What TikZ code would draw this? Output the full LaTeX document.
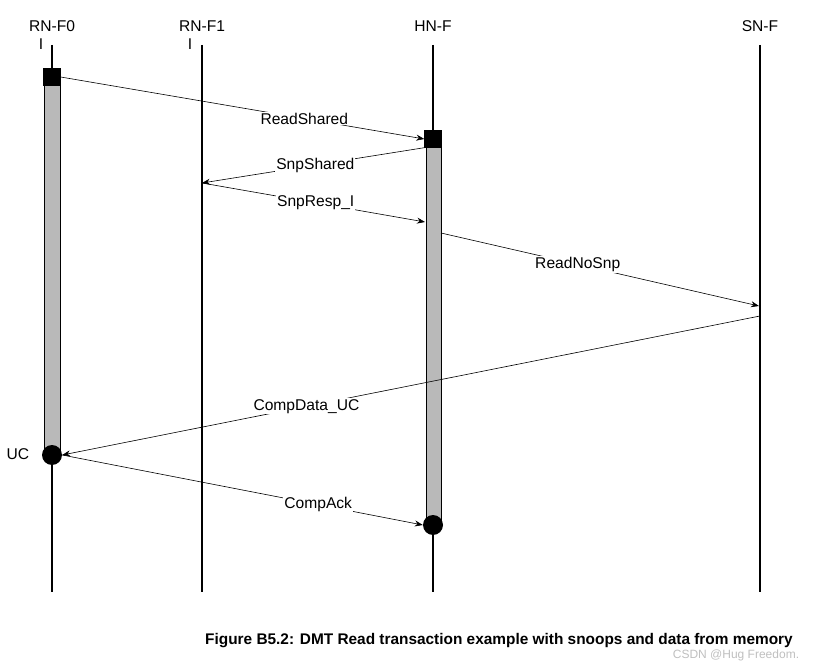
\documentclass[tikz,border=0pt]{standalone}
\usepackage{fontspec}
\setmainfont{Liberation Sans}
\usetikzlibrary{arrows.meta}
\begin{document}
\begin{tikzpicture}[x=1pt,y=-1pt,
  life/.style={line width=1.6pt},
  msg/.style={-{Stealth[length=8pt,width=6pt]},line width=0.6pt},
  lbl/.style={fill=white,inner sep=1pt,font=\fontsize{15.6}{18}\selectfont},
  hdr/.style={font=\fontsize{15.6}{18}\selectfont},
  bar/.style={fill=gray!55,draw=black,line width=0.8pt},
  blk/.style={fill=black,draw=black},
  dot/.style={circle,fill=black,minimum size=20pt,inner sep=0pt}]
\useasboundingbox (0,0) rectangle (815,666);
\foreach \n/\x/\t in {a/52/RN-F0,b/202/RN-F1,c/433/HN-F,d/760/SN-F}{
  \node[hdr] (h\n) at (\x,26) {\t};
  \draw[life] (\x,45) -- (\x,592);
}
\node[hdr] (i0) at (41,44) {I};
\node[hdr] (i1) at (190,44) {I};
\draw[bar] (44,77) rectangle (60,455);
\draw[bar] (426,140) rectangle (441,525);
\node[blk,minimum size=17pt,inner sep=0pt] (sq0) at (52,77) {};
\node[blk,minimum size=17pt,inner sep=0pt] (sq1) at (433,139) {};
\node[dot] (c0) at (52,455) {};
\node[dot] (c1) at (433,525) {};
\coordinate (p1) at (202,183);
\coordinate (h1) at (425,222);
\coordinate (h2) at (441,233);
\coordinate (s1) at (759,306);
\coordinate (s2) at (760,316);
\draw[msg] (sq0.east) -- node[lbl,pos=0.67]{ReadShared} (sq1.west);
\draw[msg] (sq1.south west) -- node[lbl,pos=0.49]{SnpShared} (p1);
\draw[msg] (p1) -- node[lbl,pos=0.51]{SnpResp\_I} (h1);
\draw[msg] (h2) -- node[lbl,pos=0.43]{ReadNoSnp} (s1);
\draw[msg] (s2) -- node[lbl,pos=0.65]{CompData\_UC} (c0.east);
\draw[msg] (c0.east) -- node[lbl,pos=0.71]{CompAck} (c1.west);
\node[hdr] (uc) at (18,454) {UC};
\node[font=\bfseries\fontsize{15.4}{18}\selectfont] (cap) at (499,641) {Figure B5.2: DMT Read transaction example with snoops and data from memory};
\node[text=gray!50,font=\fontsize{12}{14}\selectfont] (wm) at (736,655) {CSDN @Hug Freedom.};
\end{tikzpicture}
\end{document}
